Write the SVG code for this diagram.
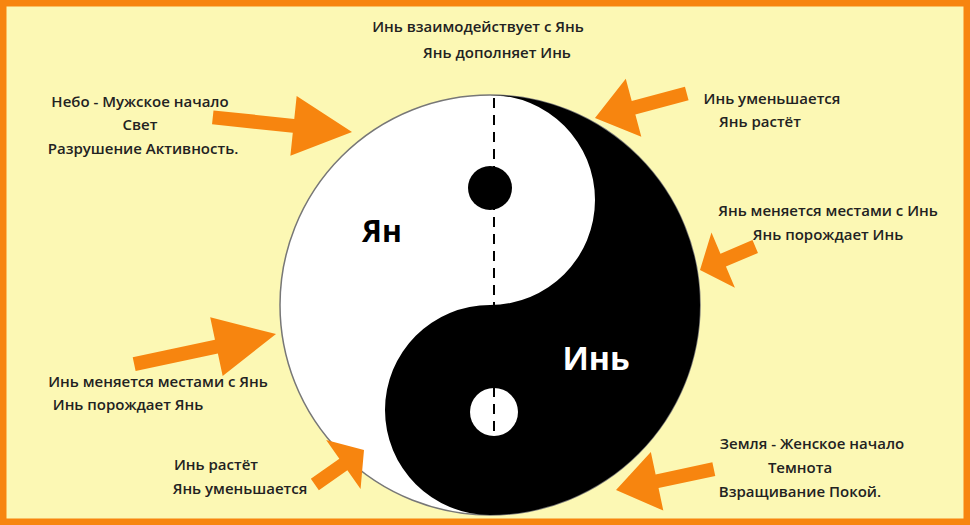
<svg xmlns="http://www.w3.org/2000/svg" width="970" height="525" viewBox="0 0 970 525">
<style>
.t{font-family:"Open Sans","Liberation Sans",sans-serif;font-size:15px;font-weight:600;fill:#222;text-anchor:middle}
.arr{fill:#f7850f}
</style>
<defs>
<path id="a" d="M-100,-7 L-42,-7 L-42,-30 L0,0 L-42,30 L-42,7 L-100,7 Z"/>
</defs>
<rect x="3" y="3" width="964" height="519" fill="#fcf8b4" stroke="#f7850f" stroke-width="7"/>
<g id="yinyang">
<circle cx="490" cy="305" r="210" fill="#fff" stroke="#777" stroke-width="1.5"/>
<path d="M490,95 A210,210 0 0 1 490,515 A105,105 0 0 1 490,305 A105,105 0 0 0 490,95 Z" fill="#000"/>
<circle cx="490" cy="188" r="22" fill="#000"/>
<circle cx="494" cy="412" r="24" fill="#fff"/>
<line x1="494" y1="98" x2="494" y2="514" stroke="#000" stroke-width="2" stroke-dasharray="10,7"/>
<text x="382" y="242" font-family="Open Sans,Liberation Sans,sans-serif" font-size="30" font-weight="bold" fill="#000" text-anchor="middle">Ян</text>
<text x="596" y="370" font-family="Open Sans,Liberation Sans,sans-serif" font-size="32" font-weight="bold" fill="#fff" text-anchor="middle">Инь</text>
</g>
<g id="arrows" class="arr">
<use href="#a" transform="translate(352,132) rotate(6) scale(1.4,1)"/>
<use href="#a" transform="translate(595,118) rotate(165) scale(0.95,1)"/>
<use href="#a" transform="translate(700,270) rotate(157) scale(0.6,1)"/>
<use href="#a" transform="translate(276,334) rotate(-12) scale(1.45,1)"/>
<use href="#a" transform="translate(364,450) rotate(-35) scale(0.6,1)"/>
<use href="#a" transform="translate(616,490) rotate(168) scale(1,1)"/>
</g>
<g id="labels">
<text class="t" x="478" y="32">Инь взаимодействует с Янь</text>
<text class="t" x="497" y="58">Янь дополняет Инь</text>
<text class="t" x="140" y="107">Небо - Мужское начало</text>
<text class="t" x="140" y="130">Свет</text>
<text class="t" x="143" y="154">Разрушение Активность.</text>
<text class="t" x="772" y="104">Инь  уменьшается</text>
<text class="t" x="760" y="127">Янь растёт</text>
<text class="t" x="828" y="216">Янь меняется местами с Инь</text>
<text class="t" x="828" y="240">Янь порождает Инь</text>
<text class="t" x="158" y="387">Инь меняется местами с Янь</text>
<text class="t" x="128" y="410">Инь порождает Янь</text>
<text class="t" x="216" y="470">Инь растёт</text>
<text class="t" x="240" y="494">Янь уменьшается</text>
<text class="t" x="812" y="449">Земля - Женское начало</text>
<text class="t" x="800" y="473">Темнота</text>
<text class="t" x="800" y="497">Взращивание Покой.</text>
</g>
</svg>
